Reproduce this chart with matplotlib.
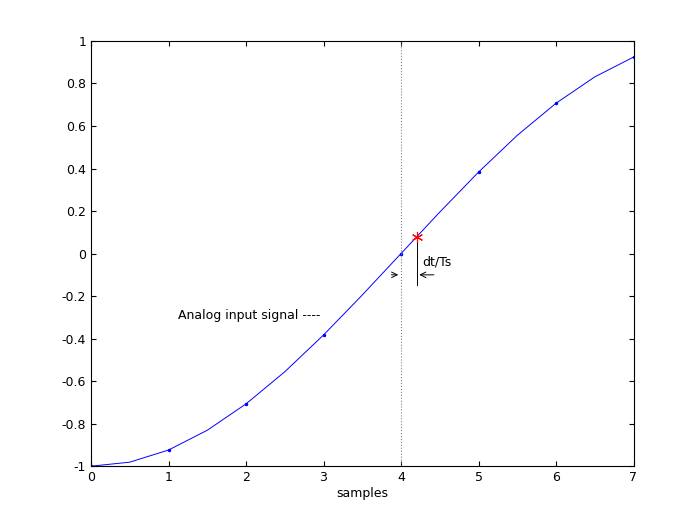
import matplotlib.pyplot as plt

# analog signal sampled at half steps
x_line = [0, 0.5, 1, 1.5, 2, 2.5, 3, 3.5, 4, 4.5, 5, 5.5, 6, 6.5, 7]
y_line = [-1.0, -0.981, -0.924, -0.831, -0.707, -0.556, -0.383, -0.195,
          0.0, 0.195, 0.383, 0.556, 0.707, 0.831, 0.924]
# sample points
x_samp = [0, 1, 2, 3, 4, 5, 6, 7]
y_samp = [-1.0, -0.924, -0.707, -0.383, 0.0, 0.383, 0.707, 0.924]
# delayed point
x_star, y_star = 4.2, 0.08

fig = plt.figure(figsize=(7, 5.25), dpi=100)
ax = fig.add_axes([0.13, 0.112, 0.775, 0.81])

ax.plot(x_line, y_line, color='blue', lw=0.7)
ax.plot(x_samp, y_samp, '.', color='blue', ms=3)
ax.plot([x_star], [y_star], marker=(6, 2, 0), color='red', ms=8, mew=0.8, ls='none')
ax.axvline(4, color='gray', ls=':', lw=0.8)

# dt/Ts marker
ax.plot([4.2, 4.2], [0.05, -0.15], color='black', lw=0.7)
ax.annotate('', xy=(4.0, -0.1), xytext=(3.84, -0.1),
            arrowprops=dict(arrowstyle='->', lw=0.7))
ax.annotate('', xy=(4.2, -0.1), xytext=(4.46, -0.1),
            arrowprops=dict(arrowstyle='->', lw=0.7))
ax.text(4.28, -0.055, 'dt/Ts', fontsize=9)
ax.text(1.12, -0.31, 'Analog input signal ----', fontsize=9)

ax.set_xlim(0, 7)
ax.set_ylim(-1, 1)
ax.set_xticks(range(8))
ax.set_yticks([-1, -0.8, -0.6, -0.4, -0.2, 0, 0.2, 0.4, 0.6, 0.8, 1])
ax.set_yticklabels(['-1', '-0.8', '-0.6', '-0.4', '-0.2', '0', '0.2', '0.4', '0.6', '0.8', '1'])
ax.tick_params(direction='in', labelsize=9, top=True, right=True)
ax.set_xlabel('samples', fontsize=9, labelpad=2)

fig.savefig('out.png')
